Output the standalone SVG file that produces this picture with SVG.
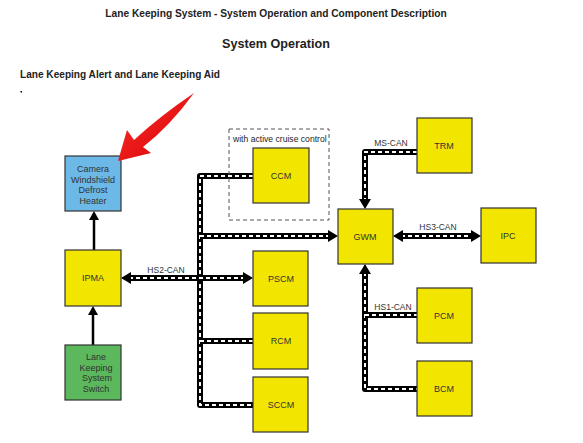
<svg xmlns="http://www.w3.org/2000/svg" width="583" height="443" viewBox="0 0 583 443">
<style>
text{font-family:"Liberation Sans",Arial,sans-serif;fill:#222}
.h{font-weight:bold}
.nl{font-size:9px;text-anchor:middle;fill:#333}
.lbl{font-size:8.5px;text-anchor:middle;fill:#333}
.box{stroke:#333;stroke-width:1.2}
.y{fill:#f2e600}
.busb{fill:none;stroke:#000;stroke-width:6;stroke-linejoin:round}
.busw{fill:none;stroke:#fff;stroke-width:2;stroke-dasharray:4 3}
</style>
<defs>
<linearGradient id="rg" x1="0" y1="0" x2="1" y2="1">
<stop offset="0" stop-color="#ff3030"/>
<stop offset="1" stop-color="#d40000"/>
</linearGradient>
</defs>
<rect width="583" height="443" fill="#fff"/>
<text class="h" x="276" y="17" font-size="10.2" text-anchor="middle">Lane Keeping System - System Operation and Component Description</text>
<text class="h" x="276" y="48" font-size="12.6" text-anchor="middle">System Operation</text>
<text class="h" x="20" y="78" font-size="10.1">Lane Keeping Alert and Lane Keeping Aid</text>
<rect x="20.5" y="91" width="1.5" height="1.5" fill="#000"/>

<g id="connectors">
<path class="busb" d="M253,176 H200 V405 H253"/>
<path class="busw" d="M253,176 H200 V405 H253"/>
<path class="busb" d="M200,236 H330"/>
<path class="busw" d="M200,236 H330"/>
<path d="M328,230 L338,236 L328,242 z" fill="#000"/>
<path class="busb" d="M200,341 H253"/>
<path class="busw" d="M200,341 H253"/>
<path class="busb" d="M129,278 H245"/>
<path class="busw" d="M129,278 H245"/>
<path d="M131,272 L121,278 L131,284 z" fill="#000"/>
<path d="M243,272 L253,278 L243,284 z" fill="#000"/>
<text class="lbl" x="166" y="273">HS2-CAN</text>
<path class="busb" d="M417,152 H365 V201"/>
<path class="busw" d="M417,152 H365 V201"/>
<path d="M359,199 L365,209 L371,199 z" fill="#000"/>
<text class="lbl" x="391" y="146">MS-CAN</text>
<path class="busb" d="M401,236 H473"/>
<path class="busw" d="M401,236 H473"/>
<path d="M403,230 L393,236 L403,242 z" fill="#000"/>
<path d="M471,230 L481,236 L471,242 z" fill="#000"/>
<text class="lbl" x="438" y="230">HS3-CAN</text>
<path class="busb" d="M365,272 V389 H417"/>
<path class="busw" d="M365,272 V389 H417"/>
<path d="M359,274 L365,264 L371,274 z" fill="#000"/>
<path class="busb" d="M365,315 H417"/>
<path class="busw" d="M365,315 H417"/>
<text class="lbl" x="393" y="310">HS1-CAN</text>
<line x1="93" y1="345" x2="93" y2="313" stroke="#000" stroke-width="2.5"/>
<path d="M88,315 L93,306 L98,315 z" fill="#000"/>
<line x1="94" y1="250" x2="94" y2="218" stroke="#000" stroke-width="2.5"/>
<path d="M89,220 L94,211 L99,220 z" fill="#000"/>
</g>

<g id="cruise-group">
<rect x="229" y="129" width="100" height="91" fill="none" stroke="#555" stroke-width="1" stroke-dasharray="4 3"/>
<text x="233" y="142" font-size="8.6" fill="#333">with active cruise control</text>
</g>

<g id="camera"><rect class="box" x="65" y="156" width="56" height="55" fill="#6cb8e6"/>
<text class="nl" x="93" y="172">Camera</text><text class="nl" x="93" y="182.5">Windshield</text><text class="nl" x="93" y="193">Defrost</text><text class="nl" x="93" y="203.5">Heater</text></g>
<g id="ipma"><rect class="box y" x="65" y="250" width="56" height="56"/><text class="nl" x="93" y="281">IPMA</text></g>
<g id="switch"><rect class="box" x="65" y="345" width="56" height="55" fill="#5cb85c"/>
<text class="nl" x="96" y="360">Lane</text><text class="nl" x="96" y="370.5">Keeping</text><text class="nl" x="97" y="381">System</text><text class="nl" x="96" y="391.5">Switch</text></g>
<g id="ccm"><rect class="box y" x="253" y="148" width="56" height="55"/><text class="nl" x="281" y="179">CCM</text></g>
<g id="pscm"><rect class="box y" x="253" y="251" width="55" height="55"/><text class="nl" x="281" y="282">PSCM</text></g>
<g id="rcm"><rect class="box y" x="253" y="313" width="55" height="56"/><text class="nl" x="281" y="344">RCM</text></g>
<g id="sccm"><rect class="box y" x="253" y="377" width="55" height="55"/><text class="nl" x="281" y="408">SCCM</text></g>
<g id="gwm"><rect class="box y" x="338" y="209" width="55" height="55"/><text class="nl" x="365" y="240">GWM</text></g>
<g id="trm"><rect class="box y" x="417" y="118" width="55" height="55"/><text class="nl" x="444" y="149">TRM</text></g>
<g id="ipc"><rect class="box y" x="481" y="208" width="55" height="55"/><text class="nl" x="508" y="239">IPC</text></g>
<g id="pcm"><rect class="box y" x="417" y="288" width="55" height="55"/><text class="nl" x="444" y="319">PCM</text></g>
<g id="bcm"><rect class="box y" x="417" y="361" width="55" height="55"/><text class="nl" x="444" y="392">BCM</text></g>

<g id="red-arrow">
<path d="M118,161 L127,130 L134,140 Q160,116 194,93 Q170,126 143,147 L151,153 z" fill="url(#rg)"/>
</g>
</svg>
